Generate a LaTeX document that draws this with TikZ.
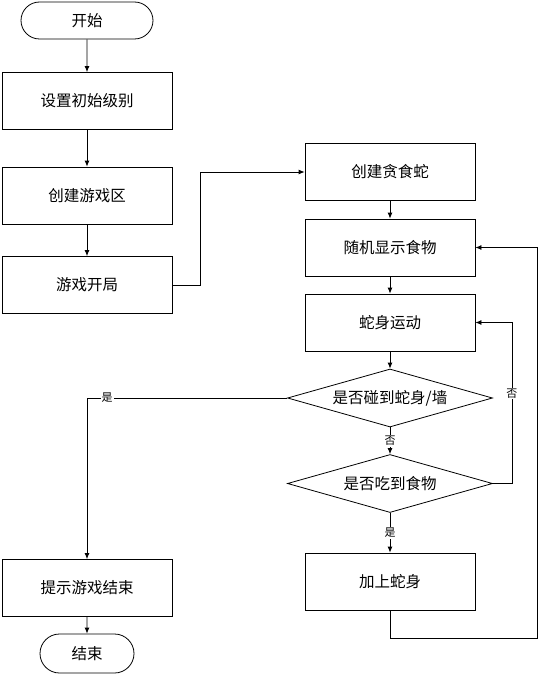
\documentclass[tikz,border=0pt]{standalone}
\usepackage{fontspec}
\newfontfamily\cjk{Noto Sans CJK SC}
\usetikzlibrary{arrows.meta,shapes.geometric,shapes.misc}
\tikzset{
  box/.style={draw,rectangle,minimum width=170pt,minimum height=57pt,inner sep=0pt,font=\cjk\fontsize{15.5}{17}\selectfont},
  term/.style={draw,rounded rectangle,inner sep=0pt,font=\cjk\fontsize{15.5}{17}\selectfont},
  dec/.style={draw,diamond,aspect=3.53,minimum width=205pt,minimum height=58pt,inner sep=0pt,font=\cjk\fontsize{15.5}{17}\selectfont},
  lbl/.style={fill=white,inner sep=1pt,font=\cjk\fontsize{11}{12}\selectfont},
  arr/.style={draw,line width=0.8pt,-{Latex[length=6pt,width=5pt]}}
}
\begin{document}
\begin{tikzpicture}[x=1pt,y=-1pt,line width=0.8pt]
\useasboundingbox (0,0) rectangle (538,674);
\node[term,minimum width=132pt,minimum height=37pt] (start) at (87,20.5) {开始};
\node[box] (b1) at (87,101) {设置初始级别};
\node[box] (b2) at (87,195.5) {创建游戏区};
\node[box] (b3) at (87,285) {游戏开局};
\node[box] (c1) at (390,172) {创建贪食蛇};
\node[box] (c2) at (390,247.5) {随机显示食物};
\node[box] (c3) at (390,322.5) {蛇身运动};
\node[dec] (d1) at (390,398) {是否碰到蛇身/墙};
\node[dec] (d2) at (390,483.5) {是否吃到食物};
\node[box] (c4) at (390,581.5) {加上蛇身};
\node[box] (e1) at (87,588) {提示游戏结束};
\node[term,minimum width=94pt,minimum height=39pt] (stop) at (87,653.5) {结束};
\coordinate (r1) at (537,638);
\draw[arr] (start) -- (b1);
\draw[arr] (b1) -- (b2);
\draw[arr] (b2) -- (b3);
\draw[arr] (b3.east) -- ++(28,0) |- (c1.west);
\draw[arr] (c1) -- (c2);
\draw[arr] (c2) -- (c3);
\draw[arr] (c3) -- (d1);
\draw[arr] (d1) -- node[lbl]{否} (d2);
\draw[arr] (d2) -- node[lbl]{是} (c4);
\draw[arr] (d2.east) -- ++(19,0) |- node[lbl,pos=0.28]{否} (c3.east);
\draw[arr] (c4.south) |- (r1) |- (c2.east);
\draw[arr] (d1.west) -| node[lbl,pos=0.45]{是} (e1.north);
\draw[arr] (e1) -- (stop);
\end{tikzpicture}
\end{document}
